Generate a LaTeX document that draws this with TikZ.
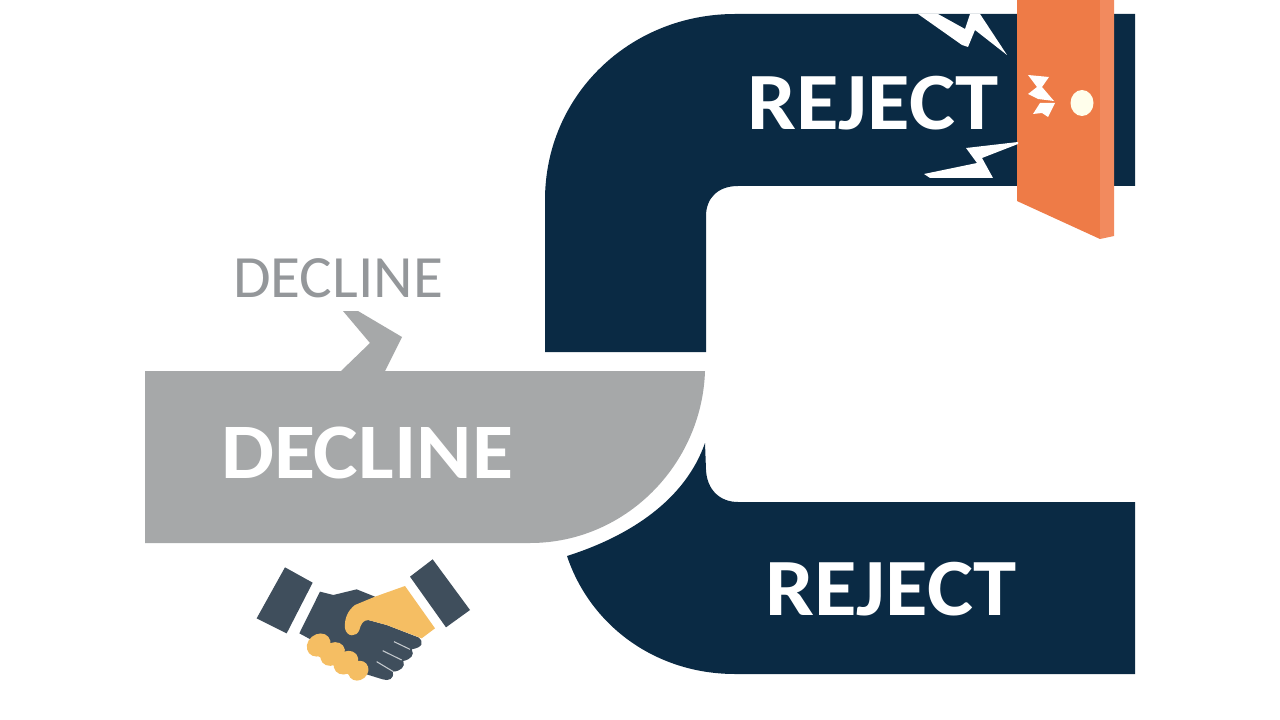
\documentclass[tikz,border=0pt]{standalone}
\usepackage{fontspec}
\setmainfont{Carlito}
\newfontfamily\wideface[FakeStretch=1.07]{Carlito}
\newfontfamily\smallface[FakeStretch=1.02]{Carlito}
\definecolor{navy}{HTML}{0A2A44}
\definecolor{greyband}{HTML}{A6A8A9}
\definecolor{greytext}{HTML}{94979A}
\definecolor{doorfront}{HTML}{EE7B47}
\definecolor{doorside}{HTML}{F28A5E}
\definecolor{handdark}{HTML}{3F4E5C}
\definecolor{handyellow}{HTML}{F5BE63}
\tikzset{
  band/.style={fill=navy},
  label/.style={inner sep=0pt,anchor=base,font=\wideface\fontsize{61}{61}\selectfont\bfseries,text=white},
  spark/.style={fill=white},
}
\begin{document}
\begin{tikzpicture}[x=0.75pt,y=-0.75pt]
\useasboundingbox (0,0) rectangle (1280,720);
\fill[white] (0,0) rectangle (1280,720);
% upper navy channel
\path[band] (545,352) -- (545,200) .. controls (545,95) and (630,14) .. (735,14)
  -- (1135,14) -- (1135,186) -- (738,186) .. controls (718,186) and (706,198) .. (706,216)
  -- (706,352) -- cycle;
% lower navy channel
\path[band] (567,556) .. controls (630,536) and (685,500) .. (705,443)
  -- (706,470) .. controls (707,490) and (720,502) .. (738,502)
  -- (1135,502) -- (1135,674) -- (735,674) .. controls (655,674) and (590,625) .. (567,556) -- cycle;
% grey band
\fill[greyband] (145,371) -- (705,371) .. controls (702,465) and (625,543) .. (530,543) -- (145,543) -- cycle;
\fill[greyband] (343,311) -- (358,311) -- (402,337) -- (385,371) -- (341,371) -- (370,343) -- cycle;
% door
\fill[doorfront] (1017,0) -- (1100,0) -- (1100,239) -- (1017,201) -- cycle;
\fill[doorside] (1100,0) -- (1114,0) -- (1114,236) -- (1100,239) -- cycle;
\fill[white!92!yellow] (1082,103) ellipse [x radius=11.5,y radius=13];
% sparks
\path[spark] (918,14) -- (962,45) -- (968,47) -- (975,30) -- (1007,55) -- (980,14) -- (970,14) -- (965,29) -- (938,14) -- cycle;
\path[spark] (1018,142) -- (966,148) -- (977,163) -- (924,174) -- (930,178) -- (993,178) -- (982,158) -- (1018,144) -- cycle;
\path[spark] (1028,75) -- (1049,77) -- (1042,87) -- (1054,101) -- (1038,99) -- (1028,94) -- (1037,87) -- cycle;
\path[spark] (1040,103) -- (1055,103) -- (1048,117) -- (1042,113) -- (1033,114) -- cycle;
% text
\node[label] (rejecttop) at (873,130) {REJECT};
\node[label] (rejectbottom) at (891,615) {REJECT};
\node[label,font=\wideface\fontsize{59}{59}\selectfont\bfseries] (declinebig) at (367,478) {DECLINE};
\node[label,font=\smallface\fontsize{45}{45}\selectfont,text=greytext] (declinesmall) at (338,297) {DECLINE};
% handshake
\begin{scope}[shift={(240,550)},x=0.25pt,y=-0.25pt]
\fill[handdark] (135,52) -- (218,98) -- (140,250) -- (50,205) -- cycle;
\fill[handdark] (578,28) -- (690,180) -- (618,232) -- (510,80) -- cycle;
\fill[handdark] (240,125) -- (280,135) -- (350,118) -- (405,140) -- (385,210) -- (440,225) -- (535,262)
  .. controls (552,275) and (550,292) .. (515,298)
  .. controls (525,315) and (512,328) .. (490,333)
  .. controls (497,350) and (482,364) .. (458,365)
  .. controls (464,387) and (445,394) .. (428,388)
  -- (370,370) -- (260,290) -- (215,270) -- (178,250) -- cycle;
\fill[handyellow] (495,108) -- (585,235) -- (545,265) -- (440,225) -- (385,210)
  .. controls (368,210) and (362,225) .. (358,240)
  .. controls (350,262) and (320,262) .. (315,235)
  .. controls (312,205) and (325,180) .. (345,165) -- (405,140) -- cycle;
\fill[handyellow] (222,262) -- (375,345) -- (345,385) -- (212,305) -- cycle;
\fill[handyellow,rotate around={40:(236,285)}] (236,285) ellipse [x radius=38,y radius=32];
\fill[handyellow,rotate around={40:(278,312)}] (278,312) ellipse [x radius=40,y radius=32];
\fill[handyellow,rotate around={40:(318,338)}] (318,338) ellipse [x radius=40,y radius=32];
\fill[handyellow,rotate around={40:(355,362)}] (355,362) ellipse [x radius=32,y radius=28];
\draw[white!70!handdark,line width=0.8pt] (462,275) -- (510,298);
\draw[white!70!handdark,line width=0.8pt] (428,302) -- (485,330);
\draw[white!70!handdark,line width=0.8pt] (410,335) -- (460,365);
\end{scope}
\end{tikzpicture}
\end{document}
